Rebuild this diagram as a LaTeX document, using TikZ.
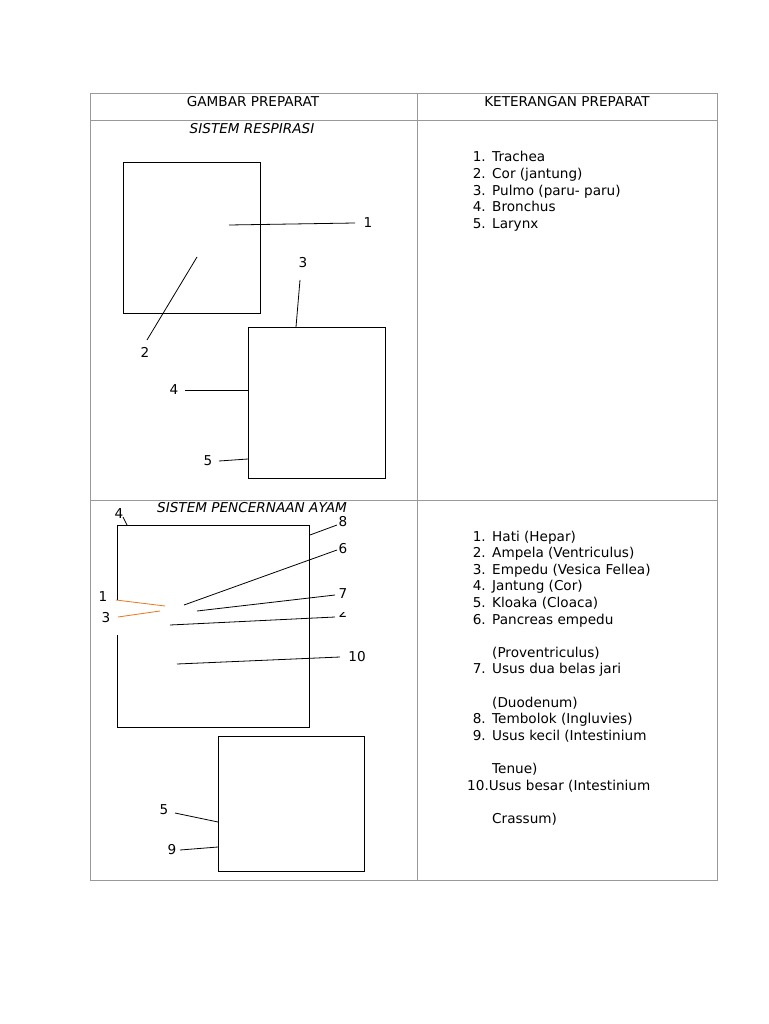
\documentclass[tikz,border=0pt]{standalone}
\usepackage{fontspec}
\setmainfont{DejaVu Sans}
\begin{document}
\begin{tikzpicture}[x=1pt,y=-1pt,font=\fontsize{13.6}{16}\selectfont,
  ln/.style={line width=0.8pt,black},
  bx/.style={draw,line width=0.8pt},
  gl/.style={draw=gray!80,line width=0.8pt},
  lb/.style={inner sep=0pt},
  org/.style={line width=0.8pt,draw={rgb,255:red,230;green,120;blue,30}}]
\useasboundingbox (0,0) rectangle (768,1024);
\draw[gl] (90,93) rectangle (717,880);
\draw[gl] (90,120) -- (717,120);
\draw[gl] (90,500) -- (717,500);
\draw[gl] (417,93) -- (417,880);
\node[lb] (h1) at (253,102) {GAMBAR PREPARAT};
\node[lb] (h2) at (567,102) {KETERANGAN PREPARAT};
\node[lb] (t1) at (252,129) {\itshape SISTEM RESPIRASI};
\node[lb] (t2) at (252,508) {\itshape SISTEM PENCERNAAN AYAM};
% respirasi
\draw[bx] (123,162) rectangle (260,313);
\draw[bx] (248,327) rectangle (385,478);
\node[lb] (r1) at (368,223) {1};
\node[lb] (r2) at (145,352) {2};
\node[lb] (r3) at (303,263) {3};
\node[lb] (r4) at (174,390) {4};
\node[lb] (r5) at (208,461) {5};
\coordinate (a1) at (229,225); \coordinate (b1) at (355,223);
\draw[ln] (a1) -- (b1);
\coordinate (a2) at (197,257); \coordinate (b2) at (147,340);
\draw[ln] (a2) -- (b2);
\coordinate (a3) at (300,280); \coordinate (b3) at (296,327);
\draw[ln] (a3) -- (b3);
\coordinate (a4) at (185,390); \coordinate (b4) at (248,390);
\draw[ln] (a4) -- (b4);
\coordinate (a5) at (219,461); \coordinate (b5) at (248,459);
\draw[ln] (a5) -- (b5);
% pencernaan
\draw[bx] (117,600) -- (117,525) -- (309,525) -- (309,727) -- (117,727) -- (117,635);
\draw[bx] (218,736) rectangle (364,871);
\node[lb] (p4) at (119,514) {4};
\node[lb] (p8) at (343,522) {8};
\node[lb] (p6) at (343,549) {6};
\node[lb] (p7) at (343,594) {7};
\begin{scope}
\clip (330,612) rectangle (360,630);
\node[lb] (p2) at (343,612) {2};
\end{scope}
\node[lb] (p10) at (357,657) {10};
\node[lb] (p1) at (103,597) {1};
\node[lb] (p3) at (106,618) {3};
\node[lb] (p5) at (164,810) {5};
\node[lb] (p9) at (172,850) {9};
\coordinate (c4) at (123,517); \coordinate (d4) at (127,525); \draw[ln] (c4)--(d4);
\coordinate (c8) at (310,535); \coordinate (d8) at (337,525); \draw[ln] (c8)--(d8);
\coordinate (c6) at (184,605); \coordinate (d6) at (337,550); \draw[ln] (c6)--(d6);
\coordinate (c7) at (197,611); \coordinate (d7) at (335,595); \draw[ln] (c7)--(d7);
\coordinate (c2) at (170,625); \coordinate (d2) at (335,617); \draw[ln] (c2)--(d2);
\coordinate (c10) at (177,664); \coordinate (d10) at (340,657); \draw[ln] (c10)--(d10);
\coordinate (c1) at (116,600); \coordinate (d1) at (165,606); \draw[org] (c1)--(d1);
\coordinate (c3) at (118,617); \coordinate (d3) at (160,611); \draw[org] (c3)--(d3);
\coordinate (c5) at (175,813); \coordinate (d5) at (218,822); \draw[ln] (c5)--(d5);
\coordinate (c9) at (180,850); \coordinate (d9) at (218,847); \draw[ln] (c9)--(d9);
% lists
\foreach \n/\t [count=\i from 0] in {1./Trachea,2./Cor (jantung),3./Pulmo (paru- paru),4./Bronchus,5./Larynx}{
  \node[lb,anchor=base east] (ln\i) at (486,162+16.6*\i) {\n};
  \node[lb,anchor=base west] (lt\i) at (492,162+16.6*\i) {\t};
}
\foreach \n/\t/\k in {1./Hati (Hepar)/0,2./Ampela (Ventriculus)/1,3./Empedu (Vesica Fellea)/2,4./Jantung (Cor)/3,5./Kloaka (Cloaca)/4,6./Pancreas empedu/5,/(Proventriculus)/7,7./Usus dua belas jari/8,/(Duodenum)/10,8./Tembolok (Ingluvies)/11,9./Usus kecil (Intestinium/12,/Tenue)/14,/Crassum)/17}{
  \node[lb,anchor=base east] at (486,541+16.6*\k) {\n};
  \node[lb,anchor=base west] at (492,541+16.6*\k) {\t};
}
\node[lb,anchor=base west] (l10) at (467,541+16.6*15) {10.Usus besar (Intestinium};
\end{tikzpicture}
\end{document}
